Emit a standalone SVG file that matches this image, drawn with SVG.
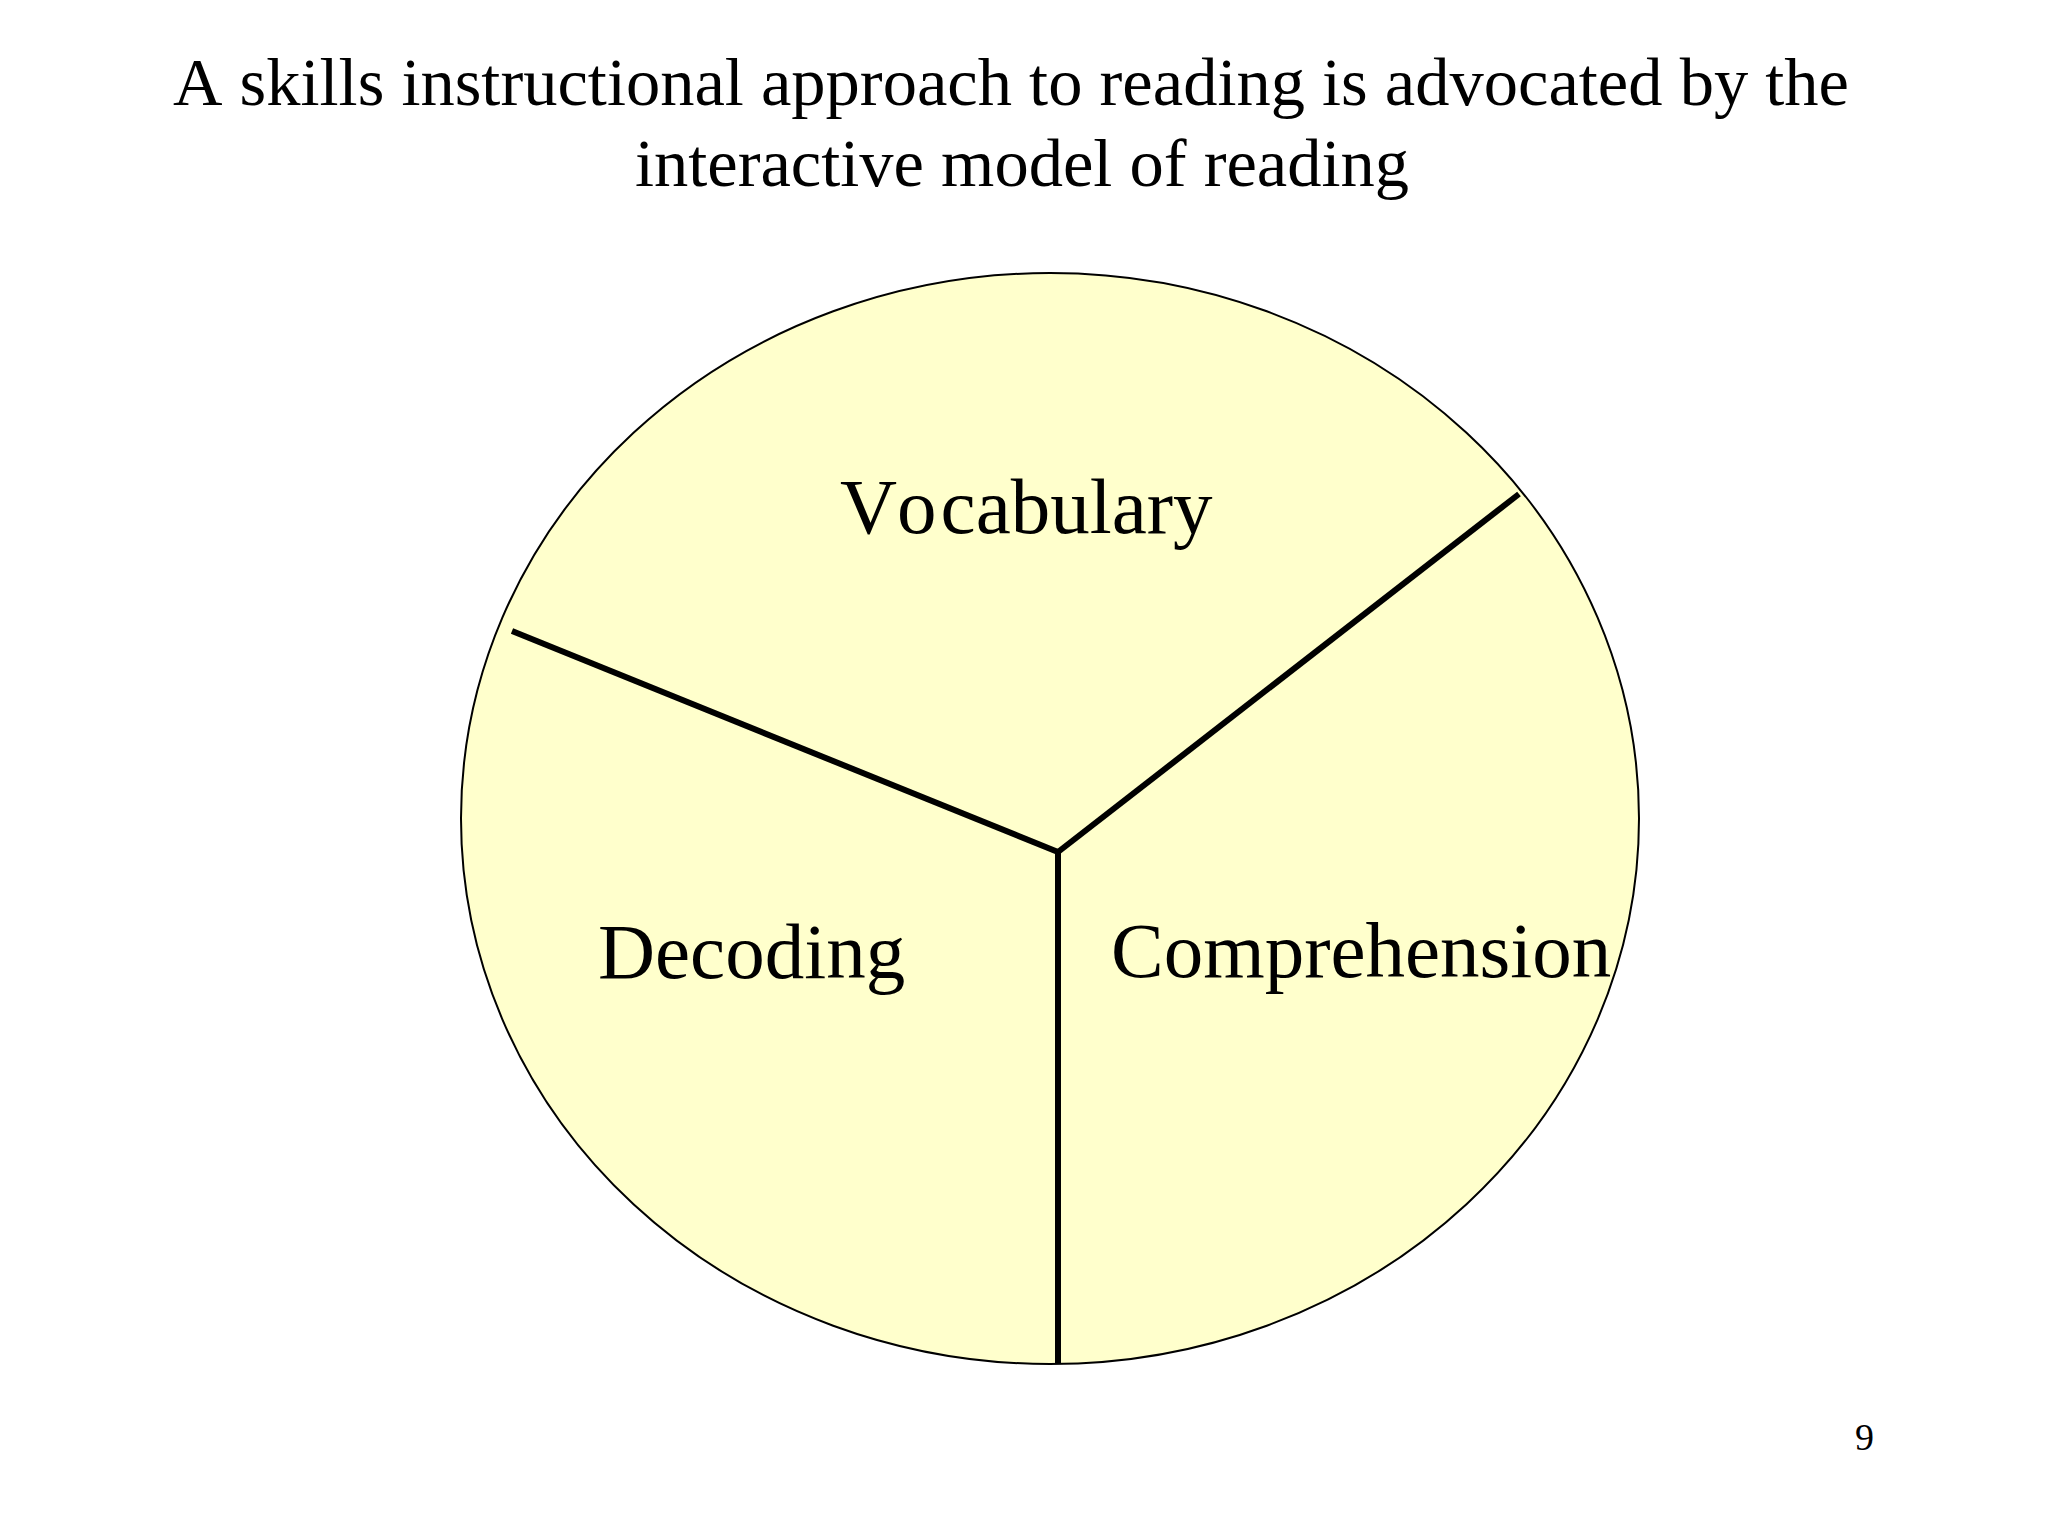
<svg xmlns="http://www.w3.org/2000/svg" width="2048" height="1536" viewBox="0 0 2048 1536">
  <style>
    .t { font-family: "Liberation Serif", "Times New Roman", serif; fill: #000; font-kerning: none; }
    .title { font-size: 68.5px; text-anchor: middle; }
    .lbl { font-size: 79px; }
    .div { stroke: #000; stroke-width: 6; stroke-linecap: butt; fill: none; }
  </style>
  <rect width="2048" height="1536" fill="#ffffff"/>
  <g id="title">
    <text class="t title" x="1011" y="105">A skills instructional approach to reading is advocated by the</text>
    <text class="t title" x="1022" y="186">interactive model of reading</text>
  </g>
  <g id="circle">
    <ellipse cx="1050" cy="818.5" rx="589" ry="545.5" fill="#FFFFCC" stroke="#000" stroke-width="2"/>
  </g>
  <g id="connectors">
    <line class="div" x1="512" y1="631" x2="1058" y2="852"/>
    <line class="div" x1="1519" y1="494" x2="1058" y2="852"/>
    <polyline class="div" points="1058,850 1058,1364"/>
  </g>
  <g id="node-vocabulary">
    <text class="t lbl" x="840" y="533">Vo<tspan dx="4">cabulary</tspan></text>
  </g>
  <g id="node-decoding">
    <text class="t lbl" x="598" y="978">Decoding</text>
  </g>
  <g id="node-comprehension">
    <text class="t lbl" x="1111" y="977">Comprehension</text>
  </g>
  <g id="page-number">
    <text class="t" x="1855" y="1450" font-size="38">9</text>
  </g>
</svg>
